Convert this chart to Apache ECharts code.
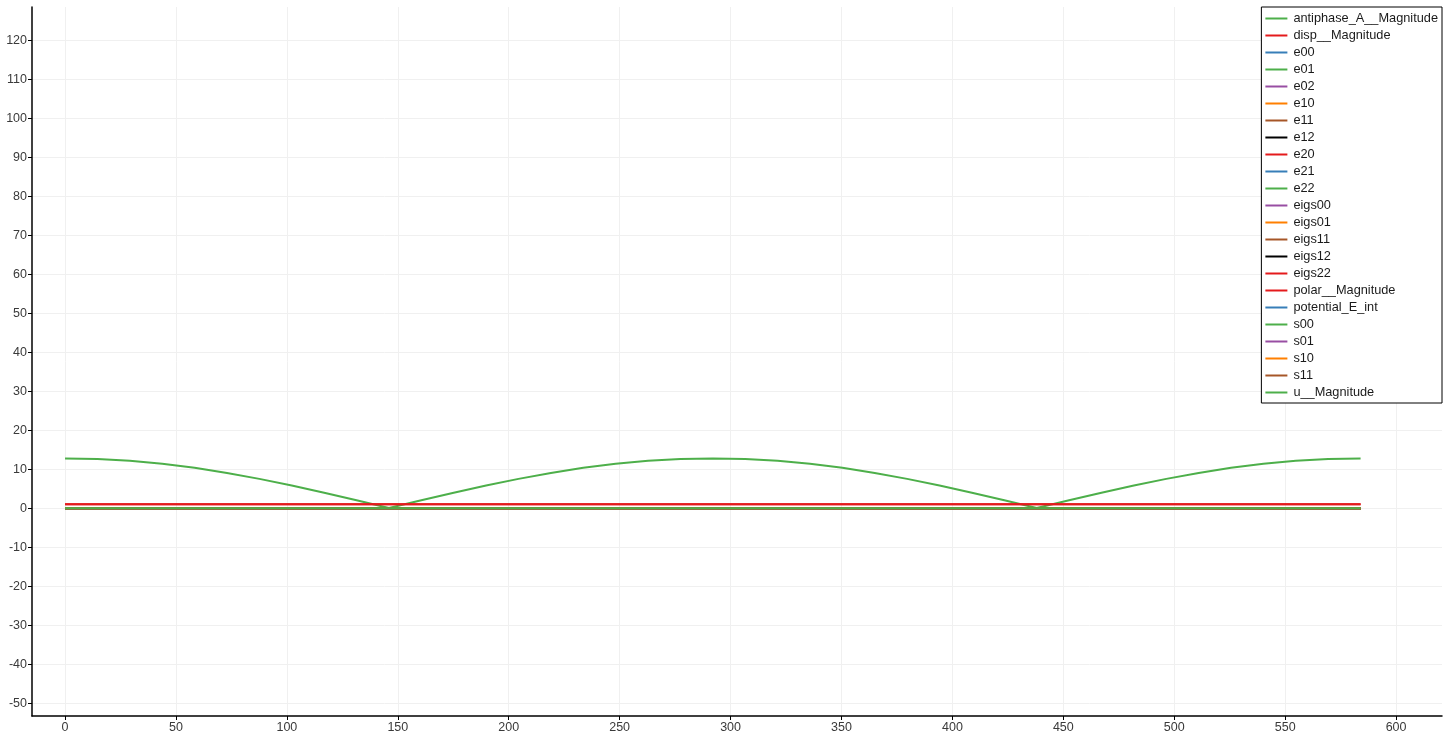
<!DOCTYPE html>
<html>
<head>
<meta charset="utf-8">
<script src="https://cdn.jsdelivr.net/npm/echarts@6/dist/echarts.min.js"></script>
<style>
html,body{margin:0;padding:0;background:#fff;}
#chart{width:1449px;height:740px;}
</style>
</head>
<body>
<div id="chart"></div>
<script>
// Sample positions along the line (x axis)
const xValues = [0,14.6,29.2,43.8,58.4,73,87.6,102.2,116.8,131.4,146,160.6,175.2,189.8,204.4,219,233.6,248.2,262.8,277.4,292,306.6,321.2,335.8,350.4,365,379.6,394.2,408.8,423.4,438,452.6,467.2,481.8,496.4,511,525.6,540.2,554.8,569.4,584];
// antiphase_A__Magnitude values
const antiphaseValues = [12.75,12.62,12.15,11.38,10.34,9.03,7.5,5.8,3.95,2.0,0.05,2.0,3.95,5.8,7.5,9.03,10.34,11.38,12.15,12.62,12.75,12.62,12.15,11.38,10.34,9.03,7.5,5.8,3.95,2.0,0.05,2.0,3.95,5.8,7.5,9.03,10.34,11.38,12.15,12.62,12.75];
// flat series: endpoints and levels
const flatX = [0, 584];
const redLevel = [1.0, 1.0];
const zeroLevel = [0, 0];

const seriesNames = ["antiphase_A__Magnitude","disp__Magnitude","e00","e01","e02","e10","e11","e12","e20","e21","e22","eigs00","eigs01","eigs11","eigs12","eigs22","polar__Magnitude","potential_E_int","s00","s01","s10","s11","u__Magnitude"];
const seriesColors = ["#4daf4a","#e41a1c","#377eb8","#4daf4a","#984ea3","#ff7f00","#a65628","#000000","#e41a1c","#377eb8","#4daf4a","#984ea3","#ff7f00","#a65628","#000000","#e41a1c","#e41a1c","#377eb8","#4daf4a","#984ea3","#ff7f00","#a65628","#4daf4a"];
const seriesLevels = {"disp__Magnitude": redLevel, "polar__Magnitude": redLevel};

const xTickLabels = [0,50,100,150,200,250,300,350,400,450,500,550,600];
const yTickLabels = [-50,-40,-30,-20,-10,0,10,20,30,40,50,60,70,80,90,100,110,120];

const series = seriesNames.map((name, i) => {
  let data;
  if (name === "antiphase_A__Magnitude") {
    data = xValues.map((x, k) => [x, antiphaseValues[k]]);
  } else {
    const lv = seriesLevels[name] || zeroLevel;
    data = flatX.map((x, k) => [x, lv[k]]);
  }
  return {
    name: name,
    type: 'line',
    data: data,
    showSymbol: false,
    symbol: 'none',
    lineStyle: {color: seriesColors[i], width: 2},
    itemStyle: {color: seriesColors[i]},
    animation: false,
    z: 2
  };
});

const chart = echarts.init(document.getElementById('chart'), null, {renderer: 'canvas'});
const labelFont = {color: '#3a3a3a', fontSize: 12.5, fontFamily: 'Liberation Sans, Arial, sans-serif'};
chart.setOption({
  backgroundColor: '#ffffff',
  animation: false,
  grid: {left: 32, right: 7, top: 7, bottom: 24, containLabel: false},
  xAxis: {
    type: 'value',
    min: -14.9,
    max: 620.7,
    minInterval: 50,
    maxInterval: 50,
    splitNumber: 12,
    axisLine: {show: true, onZero: false, lineStyle: {color: '#000', width: 1.5}},
    axisTick: {show: true, inside: false, length: 4, lineStyle: {color: '#000'}},
    axisLabel: Object.assign({margin: 5, showMinLabel: false, showMaxLabel: false,
      formatter: v => xTickLabels.includes(v) ? String(v) : ''}, labelFont),
    splitLine: {show: true, showMinLine: false, showMaxLine: false, lineStyle: {color: '#f0f0f0', width: 1}}
  },
  yAxis: {
    type: 'value',
    min: -53.3,
    max: 128.5,
    minInterval: 10,
    maxInterval: 10,
    splitNumber: 18,
    axisLine: {show: true, onZero: false, lineStyle: {color: '#000', width: 1.5}},
    axisTick: {show: true, inside: false, length: 4, lineStyle: {color: '#000'}},
    axisLabel: Object.assign({margin: 5, showMinLabel: false, showMaxLabel: false,
      formatter: v => yTickLabels.includes(v) ? String(v) : ''}, labelFont),
    splitLine: {show: true, showMinLine: false, showMaxLine: false, lineStyle: {color: '#f0f0f0', width: 1}}
  },
  legend: {
    show: true,
    orient: 'vertical',
    right: 7,
    top: 7,
    padding: [5, 4, 4, 4],
    itemGap: 4,
    itemWidth: 22,
    itemHeight: 13,
    icon: 'path://M0,6 L22,6 L22,8 L0,8 Z',
    backgroundColor: '#ffffff',
    borderColor: '#000',
    borderWidth: 1,
    borderRadius: 0,
    textStyle: {color: '#1a1a1a', fontSize: 12.75, fontFamily: 'Liberation Sans, Arial, sans-serif', padding: [0, 0, 0, 1]},
    data: seriesNames.map((n, i) => ({name: n, itemStyle: {color: seriesColors[i]}})),
    selectedMode: false
  },
  series: series
});
</script>
</body>
</html>
